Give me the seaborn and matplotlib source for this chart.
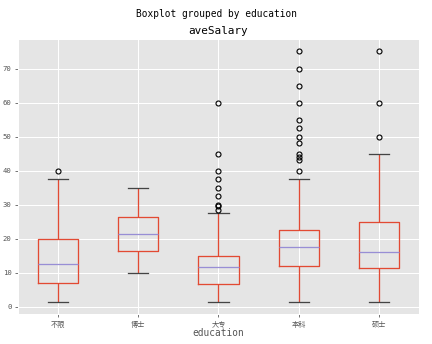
import matplotlib
matplotlib.use("Agg")
import matplotlib.pyplot as plt
import seaborn as sns
import pandas as pd

plt.style.use("ggplot")
plt.rcParams["font.family"] = ["DejaVu Sans Mono", "Noto Sans CJK SC"]
plt.rcParams["axes.unicode_minus"] = False

categories = ["不限", "博士", "大专", "本科", "硕士"]

sal_buxian = [1.5, 4, 7, 10, 12.5, 16, 20, 37.5, 40]
sal_boshi = [10, 16.25, 21.25, 26.25, 35]
sal_dazhuan = [1.5, 2, 3, 3.5, 4, 4.5, 5, 5.5, 6, 6,
               6.5,
               7, 7.5, 8, 8.5, 9, 9.5, 10, 10.5, 11,
               11.5,
               12, 12, 12.5, 13, 13, 13.5, 14, 14, 14.5,
               15, 27.5,
               28.5, 29.5, 30, 32.5, 35, 37.5, 40, 45, 60]
sal_benke = [1.5, 2, 3, 4, 5, 6, 7, 8, 8, 9, 10, 10, 11,
             12,
             12, 12.5, 13, 13.5, 14, 14.5, 15, 15, 15.5, 16, 16.5, 17,
             17.5,
             17.5, 18, 18, 18.5, 19, 19.5, 20, 20, 20.5, 21, 21.5, 22,
             22.5, 37.5,
             40, 43, 44, 45, 48, 50, 52.5, 55, 60, 65, 70, 75]
sal_shuoshi = [1.5, 4, 7, 9, 11.25, 12.5, 14, 15, 16, 18, 20, 22.5, 25, 45,
               50, 60, 75]

groups = [sal_buxian, sal_boshi, sal_dazhuan, sal_benke, sal_shuoshi]
df = pd.DataFrame({
    "education": [c for c, g in zip(categories, groups) for _ in g],
    "aveSalary": [v for g in groups for v in g],
})

fig = plt.figure(figsize=(6, 344 / 72), dpi=72)
ax = fig.add_axes([18 / 432, 1 - 314 / 344, 401 / 432, 275 / 344])

box_c = "#E24A33"
sns.boxplot(data=df, x="education", y="aveSalary", order=categories,
            width=0.5, fill=False, color=box_c, linewidth=1.3, ax=ax,
            boxprops=dict(color=box_c, linewidth=1.3),
            whiskerprops=dict(color=box_c, linewidth=1.3),
            capprops=dict(color="#444444", linewidth=1.3),
            medianprops=dict(color="#988ED5", linewidth=1.3),
            flierprops=dict(marker="o", markerfacecolor="none",
                            markeredgecolor="black", markersize=5,
                            markeredgewidth=1.1))

ax.set_ylim(-2.175, 78.675)
ax.set_xlim(-0.5, 4.5)
ax.grid(True, axis="both", color="white", linewidth=1)
ax.set_axisbelow(True)
ax.set_title("aveSalary", fontsize=11, color="black", pad=5)
ax.set_xlabel("education", fontsize=9.5, color="#555555", labelpad=0)
ax.set_ylabel("")
ax.tick_params(axis="both", labelsize=7.2, colors="#555555", length=3)
for lbl in ax.get_xticklabels():
    lbl.set_fontfamily(["Noto Sans CJK SC", "DejaVu Sans"])
fig.suptitle("Boxplot grouped by education", fontsize=9.5, y=1 - 14 / 344,
             va="center")

fig.savefig("out.png", dpi=72)
